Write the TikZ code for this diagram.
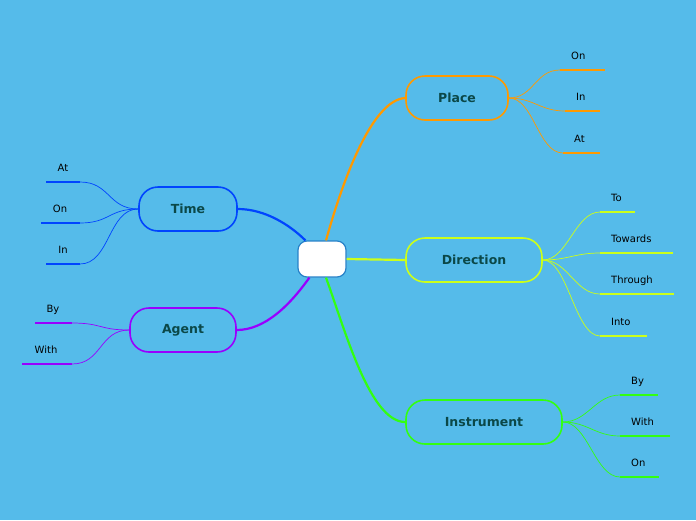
\documentclass[tikz,border=0pt]{standalone}
\usepackage{fontspec}
\setmainfont{DejaVu Sans}
\begin{document}
\begin{tikzpicture}[x=1pt,y=-1pt]
\definecolor{bg}{HTML}{55BBEA}
\definecolor{cPlace}{HTML}{FF9900}
\definecolor{cDir}{HTML}{CCFF1A}
\definecolor{cInst}{HTML}{33FF11}
\definecolor{cTime}{HTML}{0044FF}
\definecolor{cAgent}{HTML}{9900FF}
\definecolor{tx}{HTML}{0B4848}
\tikzset{
 topic/.style={draw=#1,line width=1.6pt,rounded corners=19pt,minimum height=44pt,font=\bfseries\fontsize{12.5}{14}\selectfont,text=tx,inner sep=0pt},
 leaftext/.style={font=\fontsize{10}{12}\selectfont,text=black,inner sep=0pt},
 uline/.style={draw=#1,line width=2.6pt},
 thin/.style={draw=#1,line width=0.7pt},
 main/.style={draw=#1,line width=2.2pt}
}
\fill[bg] (0,0) rectangle (696,520);
\useasboundingbox (0,0) rectangle (696,520);
\node[draw={rgb,255:red,40;green,130;blue,200},fill=white,line width=1.2pt,rounded corners=9pt,minimum width=48pt,minimum height=36pt] (c) at (322,259) {};
\node[topic=cPlace,minimum width=102pt] (place) at (457,98) {Place};
\node[topic=cDir,minimum width=136pt] (dir) at (474,260) {Direction};
\node[topic=cInst,minimum width=156pt] (inst) at (484,422) {Instrument};
\node[topic=cTime,minimum width=98pt] (time) at (188,209) {Time};
\node[topic=cAgent,minimum width=106pt] (agent) at (183,330) {Agent};
\draw[main=cPlace] ([xshift=4pt]c.north) .. controls (340,190) and (370,100) .. (place.west);
\draw[main=cDir] (c.east) -- (dir.west);
\draw[main=cInst] ([xshift=4pt]c.south) .. controls (345,330) and (370,422) .. (inst.west);
\draw[main=cTime] ([xshift=8pt]c.north west) .. controls (290,225) and (265,209) .. (time.east);
\draw[main=cAgent] ([xshift=12pt]c.south west) .. controls (290,305) and (265,330) .. (agent.east);
\foreach \n/\col/\s/\l/\r/\y/\t in {
 p1/cPlace/place/560/605/70/On, p2/cPlace/place/565/600/111/In, p3/cPlace/place/563/600/153/At,
 d1/cDir/dir/600/635/212/To, d2/cDir/dir/600/673/253/Towards, d3/cDir/dir/600/674/294/Through, d4/cDir/dir/600/647/336/Into,
 i1/cInst/inst/620/658/395/By, i2/cInst/inst/620/670/436/With, i3/cInst/inst/620/659/477/On}{
 \coordinate (\n a) at (\l,\y); \coordinate (\n b) at (\r,\y);
 \node[leaftext,anchor=base west] (\n t) at (\l+11,\y-11) {\t};
 \draw[uline=\col] (\n a) -- (\n b);
 \draw[thin=\col] (\s.east) .. controls +(25,0) and +(-25,0) .. (\n a);
}
\foreach \n/\col/\s/\l/\r/\y/\t/\tx in {
 t1/cTime/time/46/80/182/At/63, t2/cTime/time/41/80/223/On/60, t3/cTime/time/46/80/264/In/63,
 a1/cAgent/agent/35/72/323/By/53, a2/cAgent/agent/22/72/364/With/46}{
 \coordinate (\n a) at (\l,\y); \coordinate (\n b) at (\r,\y);
 \node[leaftext,anchor=base] (\n t) at (\tx,\y-11) {\t};
 \draw[uline=\col] (\n a) -- (\n b);
 \draw[thin=\col] (\s.west) .. controls +(-30,0) and +(30,0) .. (\n b);
}
\end{tikzpicture}
\end{document}
